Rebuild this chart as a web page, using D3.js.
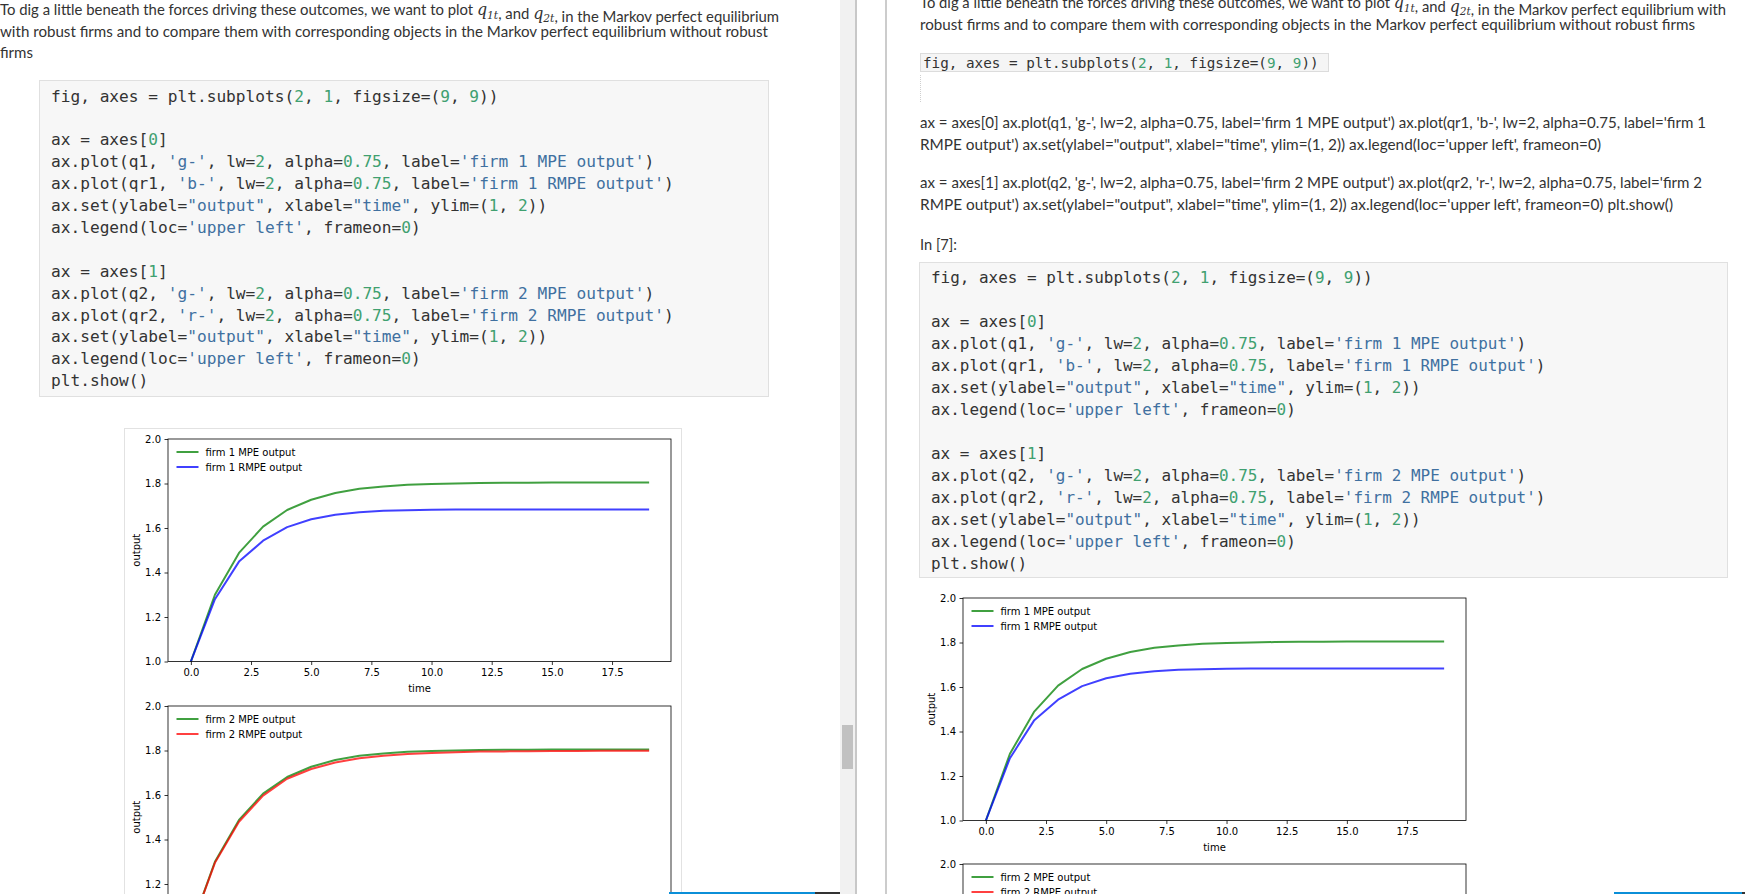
<!DOCTYPE html>
<html><head><meta charset="utf-8">
<script src="https://cdn.jsdelivr.net/npm/d3@7"></script>
<style>html,body{margin:0;padding:0;background:#fff;overflow:hidden}</style>
</head><body>
<svg id="c" width="1745" height="894" xmlns="http://www.w3.org/2000/svg"></svg>
<script>
// ---------------- data ----------------
const timeSteps = [0,1,2,3,4,5,6,7,8,9,10,11,12,13,14,15,16,17,18,19];
const q1  = [1.000,1.300,1.488,1.606,1.681,1.727,1.757,1.776,1.787,1.794,1.798,1.800,1.802,1.803,1.803,1.804,1.804,1.804,1.804,1.804];
const qr1 = [1.000,1.280,1.449,1.543,1.604,1.639,1.660,1.671,1.677,1.680,1.682,1.683,1.683,1.683,1.683,1.683,1.683,1.683,1.683,1.683];
const q2  = [1.000,1.300,1.488,1.606,1.681,1.727,1.757,1.776,1.787,1.794,1.798,1.800,1.802,1.803,1.803,1.804,1.804,1.804,1.804,1.804];
const qr2 = [1.000,1.295,1.480,1.597,1.673,1.717,1.746,1.765,1.776,1.784,1.789,1.792,1.795,1.796,1.797,1.798,1.798,1.799,1.799,1.799];
const xTicks = [0,2.5,5,7.5,10,12.5,15,17.5];
const yTicks = [1.0,1.2,1.4,1.6,1.8,2.0];
const legendTop = ['firm 1 MPE output','firm 1 RMPE output'];
const legendBottom = ['firm 2 MPE output','firm 2 RMPE output'];
const colorsTop = ['#008000','#0000ff'];
const colorsBottom = ['#008000','#ff0000'];
const yLabel = 'output', xLabel = 'time';

const codeLines = [
 "fig, axes = plt.subplots(2, 1, figsize=(9, 9))",
 "",
 "ax = axes[0]",
 "ax.plot(q1, 'g-', lw=2, alpha=0.75, label='firm 1 MPE output')",
 "ax.plot(qr1, 'b-', lw=2, alpha=0.75, label='firm 1 RMPE output')",
 "ax.set(ylabel=\"output\", xlabel=\"time\", ylim=(1, 2))",
 "ax.legend(loc='upper left', frameon=0)",
 "",
 "ax = axes[1]",
 "ax.plot(q2, 'g-', lw=2, alpha=0.75, label='firm 2 MPE output')",
 "ax.plot(qr2, 'r-', lw=2, alpha=0.75, label='firm 2 RMPE output')",
 "ax.set(ylabel=\"output\", xlabel=\"time\", ylim=(1, 2))",
 "ax.legend(loc='upper left', frameon=0)",
 "plt.show()"
];
const plainLines = [
 "ax = axes[0] ax.plot(q1, 'g-', lw=2, alpha=0.75, label='firm 1 MPE output') ax.plot(qr1, 'b-', lw=2, alpha=0.75, label='firm 1",
 "RMPE output') ax.set(ylabel=\"output\", xlabel=\"time\", ylim=(1, 2)) ax.legend(loc='upper left', frameon=0)",
 "ax = axes[1] ax.plot(q2, 'g-', lw=2, alpha=0.75, label='firm 2 MPE output') ax.plot(qr2, 'r-', lw=2, alpha=0.75, label='firm 2",
 "RMPE output') ax.set(ylabel=\"output\", xlabel=\"time\", ylim=(1, 2)) ax.legend(loc='upper left', frameon=0) plt.show()"
];

// ---------------- drawing ----------------
const svg = d3.select('#c');
const SANS = "Lato, 'Open Sans', sans-serif";
const MONO = "'DejaVu Sans Mono', monospace";
const MPL = "'DejaVu Sans', sans-serif";
const TXT = '#333';

svg.append('rect').attr('width',1745).attr('height',894).attr('fill','#fff');

// paragraph with math
function para(x, y, parts, width){
  const t = svg.append('text').attr('x',x).attr('y',y)
    .attr('font-family',SANS).attr('font-size',16).attr('fill',TXT)
    .attr('xml:space','preserve').style('white-space','pre');
  parts.forEach(p=>{
    if (typeof p === 'string') t.append('tspan').text(p);
    else {
      t.append('tspan').attr('font-family',"'DejaVu Serif', serif").attr('font-style','italic').attr('font-size',17).text('q');
      t.append('tspan').attr('font-family',"'DejaVu Serif', serif").attr('font-style','italic').attr('font-size',11.5).attr('dy',3.5).text(p.sub);
      t.append('tspan').attr('dy',-3.5).text('');
    }
  });
  if (width) t.attr('textLength',width).attr('lengthAdjust','spacingAndGlyphs');
  return t;
}
function plain(x,y,str,width,size){
  const t = svg.append('text').attr('x',x).attr('y',y)
    .attr('font-family',SANS).attr('font-size',size||16).attr('fill',TXT)
    .attr('xml:space','preserve').style('white-space','pre').text(str);
  if (width) t.attr('textLength',width).attr('lengthAdjust','spacingAndGlyphs');
  return t;
}

// code line with syntax colors
function codeLine(x,y,str,charW,size){
  if (!str) return;
  const t = svg.append('text').attr('x',x).attr('y',y)
    .attr('font-family',MONO).attr('font-size',size||16).attr('fill',TXT)
    .attr('xml:space','preserve').style('white-space','pre');
  const re = /('[^']*'|"[^"]*")|(\b\d+(?:\.\d+)?\b)|([A-Za-z_]\w*)|(\s+)|(.)/g;
  let m;
  while ((m = re.exec(str))){
    let col = TXT;
    if (m[1]) col = '#4070a0';
    else if (m[2]) col = '#40a070';
    t.append('tspan').attr('fill',col).text(m[0]);
  }
  t.attr('textLength', str.length*charW).attr('lengthAdjust','spacingAndGlyphs');
}

// ---- left pane text ----
para(0,15,["To dig a little beneath the forces driving these outcomes, we want to plot ",{sub:'1t'},", and ",{sub:'2t'},", in the Markov perfect equilibrium"],779);
plain(0,37,"with robust firms and to compare them with corresponding objects in the Markov perfect equilibrium without robust",768);
plain(0,58,"firms",33);

svg.append('rect').attr('x',39.5).attr('y',80.5).attr('width',729).attr('height',316)
  .attr('fill','#f7f7f7').attr('stroke','#e0e0e0');
codeLines.forEach((l,i)=> codeLine(51, 101.5 + i*21.9, l, 9.73));

// left output area border
svg.append('rect').attr('x',124.5).attr('y',428.5).attr('width',557).attr('height',600)
  .attr('fill','#fff').attr('stroke','#e2e2e2');

// ---- right pane text ----
para(920,8,["To dig a little beneath the forces driving these outcomes, we want to plot ",{sub:'1t'},", and ",{sub:'2t'},", in the Markov perfect equilibrium with"],806);
plain(920,30,"robust firms and to compare them with corresponding objects in the Markov perfect equilibrium without robust firms",775);

svg.append('rect').attr('x',920.5).attr('y',53.5).attr('width',408).attr('height',18)
  .attr('fill','#f5f5f5').attr('stroke','#dcdcdc');
codeLine(923,67.5,"fig, axes = plt.subplots(2, 1, figsize=(9, 9))",8.6,14);
svg.selectAll(null).data([0]).enter().append('line')
  .attr('x1',920.5).attr('x2',920.5).attr('y1',75).attr('y2',102)
  .attr('stroke','#cfcfcf').attr('stroke-dasharray','1,1');

const plainW = [786,681,782,753];
const plainY = [128,150,188,210];
plainLines.forEach((l,i)=> plain(920, plainY[i], l, plainW[i]));
plain(920,249.5,"In [7]:",37);

svg.append('rect').attr('x',919.5).attr('y',262.5).attr('width',808).attr('height',315)
  .attr('fill','#f7f7f7').attr('stroke','#e0e0e0');
codeLines.forEach((l,i)=> codeLine(931, 282.5 + i*22, l, 9.6));

// ---------------- charts ----------------
let clipId = 0;
function drawChart(left, top, series, colors, labels){
  const W = 503, H = 222.5;
  const g = svg.append('g');
  const x = d3.scaleLinear().domain([-0.95,19.95]).range([left,left+W]);
  const y = d3.scaleLinear().domain([1,2]).range([top+H,top]);
  const id = 'clip'+(clipId++);
  g.append('clipPath').attr('id',id).append('rect')
    .attr('x',left).attr('y',top).attr('width',W).attr('height',H);
  const line = d3.line().x((d,i)=>x(timeSteps[i])).y(d=>y(d));
  g.append('g').attr('clip-path',`url(#${id})`).selectAll('path').data(series).enter().append('path')
    .attr('d',d=>line(d)).attr('fill','none')
    .attr('stroke',(d,i)=>colors[i]).attr('stroke-opacity',0.75).attr('stroke-width',2)
    .attr('stroke-linejoin','round').attr('stroke-linecap','square');

  const xa = g.append('g').attr('transform',`translate(0,${top+H})`)
    .call(d3.axisBottom(x).tickValues(xTicks).tickFormat(d3.format('.1f')).tickSize(3.5).tickPadding(3.5).tickSizeOuter(0));
  const ya = g.append('g').attr('transform',`translate(${left},0)`)
    .call(d3.axisLeft(y).tickValues(yTicks).tickFormat(d3.format('.1f')).tickSize(3.5).tickPadding(3.5).tickSizeOuter(0));
  [xa,ya].forEach(a=>{
    a.select('.domain').remove();
    a.attr('font-family',MPL).attr('font-size',10);
    a.selectAll('line').attr('stroke','#000').attr('stroke-width',0.8);
    a.selectAll('text').attr('fill','#000');
  });
  g.append('rect').attr('x',left).attr('y',top).attr('width',W).attr('height',H)
    .attr('fill','none').attr('stroke','#000').attr('stroke-width',0.8);

  g.append('text').attr('x',left+W/2).attr('y',top+H+30).attr('text-anchor','middle')
    .attr('font-family',MPL).attr('font-size',10).attr('fill','#000').text(xLabel);
  g.append('text').attr('transform',`translate(${left-28},${top+H/2}) rotate(-90)`).attr('text-anchor','middle')
    .attr('font-family',MPL).attr('font-size',10).attr('fill','#000').text(yLabel);

  const lg = g.append('g').selectAll('g').data(labels).enter().append('g')
    .attr('transform',(d,i)=>`translate(${left},${top+13+i*15})`);
  lg.append('line').attr('x1',8.5).attr('x2',30.5).attr('y1',0).attr('y2',0)
    .attr('stroke',(d,i)=>colors[i]).attr('stroke-opacity',0.75).attr('stroke-width',2);
  lg.append('text').attr('x',37.5).attr('y',0).attr('dy','0.35em')
    .attr('font-family',MPL).attr('font-size',10).attr('fill','#000').text(d=>d);
}

drawChart(168, 439, [q1,qr1], colorsTop, legendTop);
drawChart(168, 706, [q2,qr2], colorsBottom, legendBottom);
drawChart(963, 598, [q1,qr1], colorsTop, legendTop);
drawChart(963, 864, [q2,qr2], colorsBottom, legendBottom);

// ---------------- chrome ----------------
svg.append('rect').attr('x',840).attr('y',0).attr('width',15).attr('height',894).attr('fill','#f1f1f1');
svg.append('rect').attr('x',842).attr('y',725).attr('width',11).attr('height',44).attr('fill','#c1c1c1');
svg.append('rect').attr('x',855).attr('y',0).attr('width',2).attr('height',894).attr('fill','#c8c8c8');
svg.append('rect').attr('x',857).attr('y',0).attr('width',28).attr('height',894).attr('fill','#fff');
svg.append('rect').attr('x',885).attr('y',0).attr('width',2).attr('height',894).attr('fill','#cccccc');
svg.append('rect').attr('x',669).attr('y',892).attr('width',146).attr('height',2).attr('fill','#0b8fd8');
svg.append('rect').attr('x',815).attr('y',892).attr('width',25).attr('height',2).attr('fill','#333');
svg.append('rect').attr('x',1614).attr('y',892).attr('width',128).attr('height',2).attr('fill','#0b8fd8');
svg.append('rect').attr('x',1742).attr('y',892).attr('width',3).attr('height',2).attr('fill','#333');
</script>
</body></html>
